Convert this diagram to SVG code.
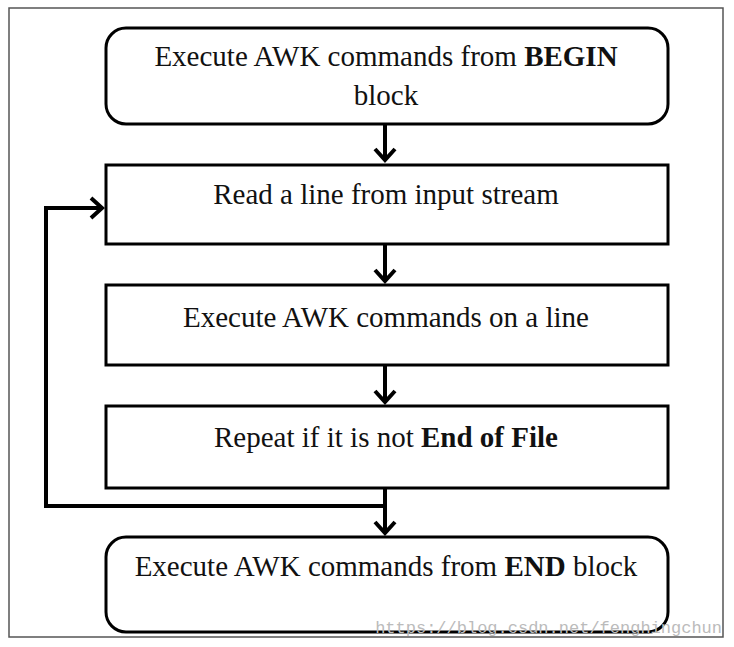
<svg xmlns="http://www.w3.org/2000/svg" width="734" height="647" viewBox="0 0 734 647">
<style>
.box{fill:#fff;stroke:#000;stroke-width:3}
.t{font-family:"Liberation Serif",serif;font-size:29px;fill:#111;text-anchor:middle}
.c{fill:none;stroke:#000;stroke-width:4}
</style>
<defs><marker id="a" viewBox="-4 -4 20 20" refX="10" refY="6" markerWidth="20" markerHeight="20" orient="auto" markerUnits="userSpaceOnUse" style="overflow:visible"><path d="M-1,-4 L10,6 L-1,16" fill="none" stroke="#000" stroke-width="4"/></marker></defs>
<rect width="734" height="647" fill="#fff"/>
<rect x="9" y="8" width="714" height="629" fill="none" stroke="#555" stroke-width="1.5"/>
<g id="n1"><rect class="box" x="106" y="28" width="562" height="96" rx="20"/><text class="t" x="386" y="66">Execute AWK commands from <tspan font-weight="bold">BEGIN</tspan></text><text class="t" x="386" y="105">block</text></g>
<g id="n2"><rect class="box" x="106" y="165" width="562" height="79"/><text class="t" x="386" y="204">Read a line from input stream</text></g>
<g id="n3"><rect class="box" x="106" y="285" width="562" height="80"/><text class="t" x="386" y="327">Execute AWK commands on a line</text></g>
<g id="n4"><rect class="box" x="106" y="406" width="562" height="82"/><text class="t" x="386" y="447">Repeat if it is not <tspan font-weight="bold">End of File</tspan></text></g>
<g id="n5"><rect class="box" x="106" y="537" width="562" height="95" rx="20"/><text class="t" x="386" y="576">Execute AWK commands from <tspan font-weight="bold">END</tspan> block</text></g>
<g id="connectors">
<path class="c" d="M385,124 V160" marker-end="url(#a)"/>
<path class="c" d="M385,244 V281" marker-end="url(#a)"/>
<path class="c" d="M385,365 V402" marker-end="url(#a)"/>
<path class="c" d="M385,488 V533" marker-end="url(#a)"/>
<path class="c" d="M385,506 H46 V208 H102" marker-end="url(#a)"/>
</g>
<text x="722" y="633" font-family="Liberation Mono,monospace" font-size="17" fill="#bbb" text-anchor="end">https://blog.csdn.net/fenghingchun</text>
</svg>
